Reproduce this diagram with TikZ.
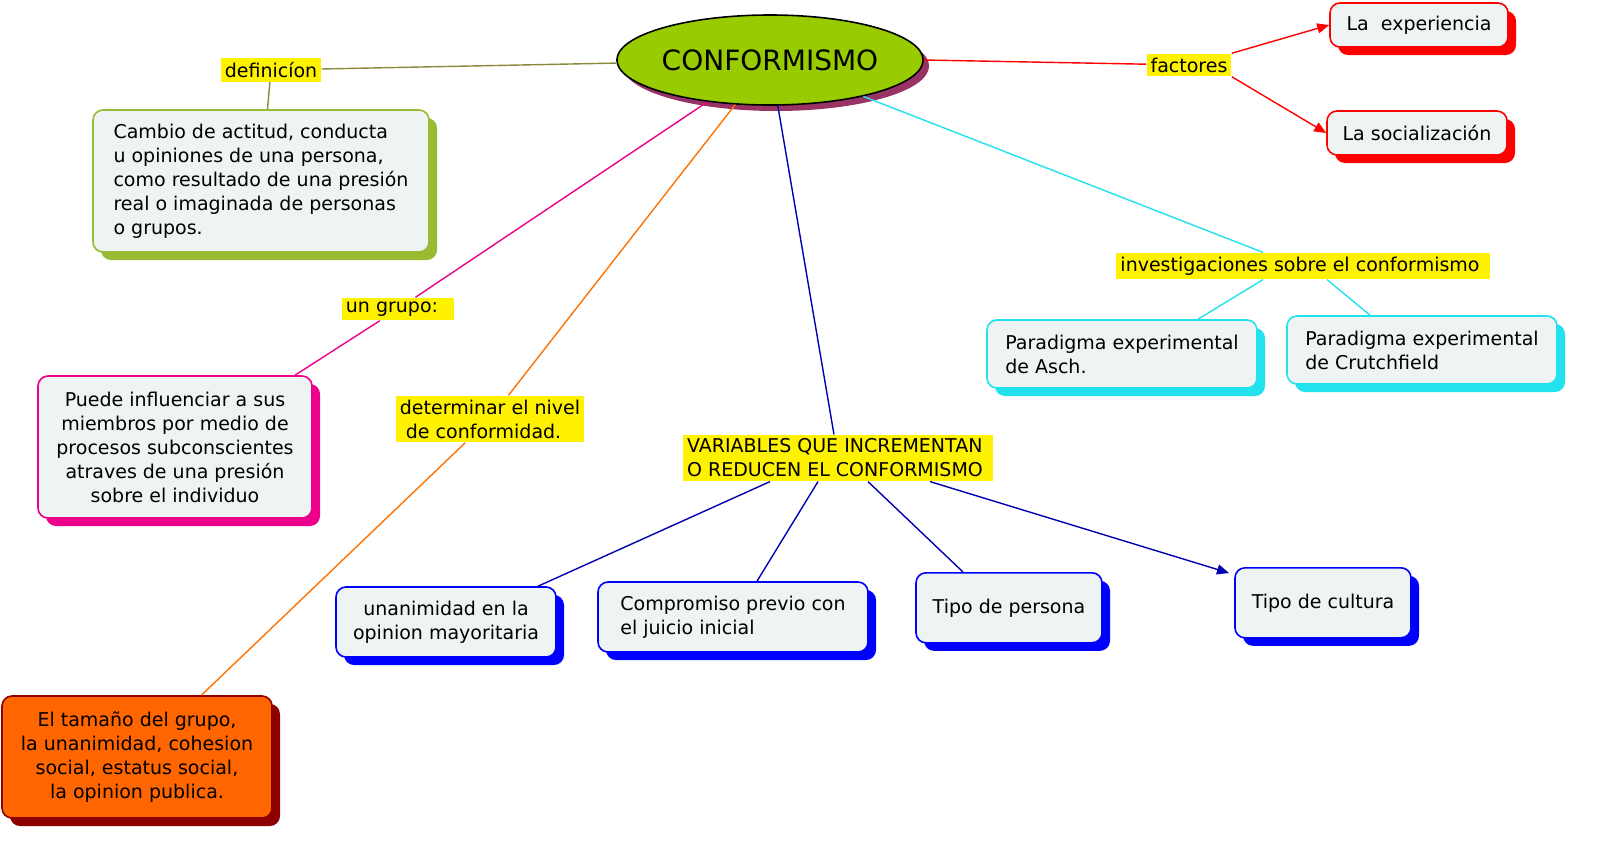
\documentclass[tikz,border=0pt]{standalone}
\usepackage{fontspec}
\setmainfont{DejaVu Sans}
\usetikzlibrary{shadows,arrows.meta,shapes.geometric}
\definecolor{bfill}{HTML}{EEF3F3}
\definecolor{cgreen}{HTML}{99CC00}
\definecolor{dgreen}{HTML}{99BB33}
\definecolor{maroon}{HTML}{993366}
\definecolor{olivel}{HTML}{8A8A3A}
\definecolor{ccyan}{HTML}{22E2EE}
\tikzset{
 box/.style={draw=#1, fill=bfill, rounded corners=5pt, line width=0.8pt, inner sep=4pt,
   drop shadow={shadow xshift=4pt, shadow yshift=-4pt, fill=#1, opacity=1},
   font=\fontsize{9.5}{12}\selectfont, align=center},
 lab/.style={fill=yellow, inner sep=2pt, font=\fontsize{9.5}{12}\selectfont, align=left},
 conn/.style={line width=0.7pt},
 arr/.style={conn, -{Triangle[length=6pt,width=5pt]}}
}
\begin{document}
\begin{tikzpicture}[x=0.5pt,y=-0.5pt]
\useasboundingbox (0,0) rectangle (1600,841);
\fill[white] (0,0) rectangle (1600,841);
% central
\node[ellipse, draw=black, fill=cgreen, line width=0.8pt, inner sep=0pt, minimum width=134pt, minimum height=45pt,
  drop shadow={shadow xshift=3pt, shadow yshift=-3pt, fill=maroon, opacity=1},
  font=\fontsize{14}{17}\selectfont] (conf) at (770,60) {CONFORMISMO};
% definicion
\node[lab] (ldef) at (271,70) {definicíon};
\node[box=dgreen, minimum width=168pt, minimum height=71pt, align=left] (def) at (261,181)
 {Cambio de actitud, conducta\\ u opiniones de una persona,\\ como resultado de una presión\\ real o imaginada de personas\\ o grupos.};
\draw[conn, olivel] (conf) -- (ldef);
\draw[conn, olivel] (ldef) -- (def);
% factores
\node[lab] (lfac) at (1189,65) {factores};
\node[box=red, minimum width=89pt, minimum height=22pt] (exp) at (1419,25) {La\ \ experiencia};
\node[box=red, minimum width=90pt, minimum height=22pt] (soc) at (1417,133) {La socialización};
\draw[conn, red] (conf.east) -- (lfac);
\draw[arr, red] (lfac.north east) -- (exp.west);
\draw[arr, red] (lfac.south east) -- (soc.west);
% investigaciones
\node[lab] (linv) at (1303,266) {investigaciones sobre el conformismo\ };
\node[box=ccyan, minimum width=135pt, minimum height=34pt, align=left] (asch) at (1122,354) {Paradigma experimental\\ de Asch.};
\node[box=ccyan, minimum width=135pt, minimum height=34pt, align=left] (crut) at (1422,350) {Paradigma experimental\\ de Crutchfield};
\draw[conn, ccyan] (conf) -- ([xshift=-20pt]linv.north);
\draw[conn, ccyan] ([xshift=-20pt]linv.south) -- ([xshift=38pt]asch.north);
\draw[conn, ccyan] ([xshift=12pt]linv.south) -- ([xshift=-26pt]crut.north);
% un grupo
\node[lab] (lgru) at (398,309) {un grupo:\ \ };
\node[box=magenta, minimum width=137pt, minimum height=71pt] (gru) at (175,447)
 {Puede influenciar a sus\\ miembros por medio de\\ procesos subconscientes\\ atraves de una presión\\ sobre el individuo};
\draw[conn, magenta] (conf) -- (lgru);
\draw[conn, magenta] (lgru) -- ([xshift=60pt]gru.north);
% determinar
\node[lab] (ldet) at (490,419) {determinar el nivel\\ \ de conformidad.};
\node[box={red!55!black}, fill={rgb,255:red,255;green,102;blue,0}, minimum width=135pt, minimum height=61pt] (tam) at (137,757)
 {El tamaño del grupo,\\ la unanimidad, cohesion\\ social, estatus social,\\ la opinion publica.};
\draw[conn, orange!90!red] (conf) -- (ldet);
\draw[conn, orange!90!red] (ldet) -- (tam);
% variables
\node[lab] (lvar) at (838,458) {VARIABLES QUE INCREMENTAN\\ O REDUCEN EL CONFORMISMO\ \ };
\node[box=blue, minimum width=110pt, minimum height=35pt] (una) at (446,622) {unanimidad en la\\ opinion mayoritaria};
\node[box=blue, minimum width=135pt, minimum height=35pt, align=left] (com) at (733,617) {Compromiso previo con\\ el juicio inicial};
\node[box=blue, minimum width=93pt, minimum height=35pt, anchor=north] (per) at (1009,572) {Tipo de persona};
\node[box=blue, minimum width=88pt, minimum height=35pt, anchor=north] (cul) at (1323,567) {Tipo de cultura};
\draw[conn, blue!70!black] (conf) -- (lvar);
\draw[conn, blue!70!black] ([xshift=-34pt]lvar.south) -- ([xshift=46pt]una.north);
\draw[conn, blue!70!black] ([xshift=-10pt]lvar.south) -- ([xshift=12pt]com.north);
\draw[conn, blue!70!black] ([xshift=15pt]lvar.south) -- ([xshift=-23pt]per.north);
\draw[arr, blue!70!black] ([xshift=46pt]lvar.south) -- ([xshift=-47pt,yshift=-3pt]cul.north);
\end{tikzpicture}
\end{document}
